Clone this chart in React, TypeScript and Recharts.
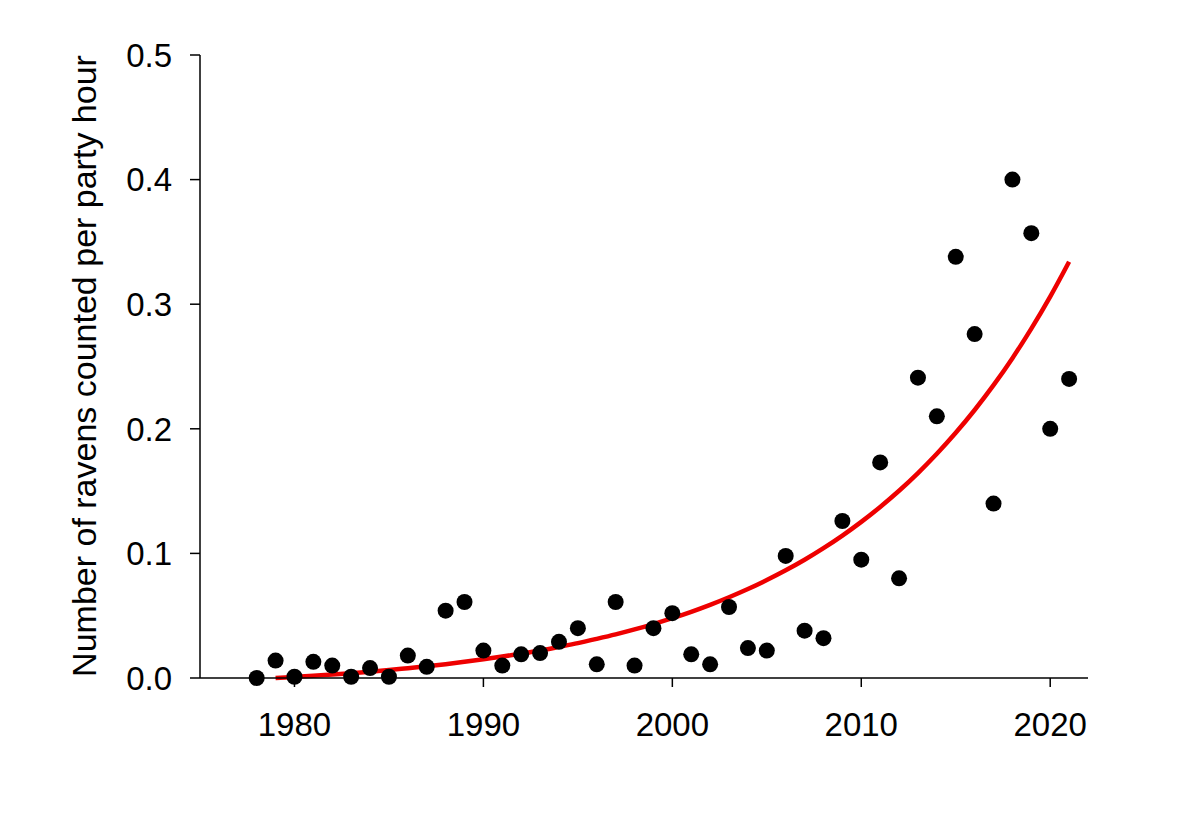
import React from 'react';
import { ComposedChart, XAxis, YAxis, Scatter, Line } from 'recharts';

const years = [1978,1979,1980,1981,1982,1983,1984,1985,1986,1987,1988,1989,1990,1991,1992,1993,1994,1995,1996,1997,1998,1999,2000,2001,2002,2003,2004,2005,2006,2007,2008,2009,2010,2011,2012,2013,2014,2015,2016,2017,2018,2019,2020,2021];
const ravensPerHour = [0.000,0.014,0.001,0.013,0.010,0.001,0.008,0.001,0.018,0.009,0.054,0.061,0.022,0.010,0.019,0.020,0.029,0.040,0.011,0.061,0.010,0.040,0.052,0.019,0.011,0.057,0.024,0.022,0.098,0.038,0.032,0.126,0.095,0.173,0.080,0.241,0.210,0.338,0.276,0.140,0.400,0.357,0.200,0.240];

const fitYears = [1979,1980,1981,1982,1983,1984,1985,1986,1987,1988,1989,1990,1991,1992,1993,1994,1995,1996,1997,1998,1999,2000,2001,2002,2003,2004,2005,2006,2007,2008,2009,2010,2011,2012,2013,2014,2015,2016,2017,2018,2019,2020,2021];
const fitValues = [0.0000,0.0009,0.0018,0.0028,0.0039,0.0051,0.0064,0.0079,0.0094,0.0111,0.0130,0.0150,0.0172,0.0196,0.0221,0.0250,0.0280,0.0314,0.0350,0.0390,0.0433,0.0480,0.0531,0.0587,0.0648,0.0714,0.0786,0.0864,0.0949,0.1042,0.1143,0.1253,0.1373,0.1503,0.1645,0.1800,0.1968,0.2151,0.2350,0.2567,0.2804,0.3061,0.3341];

const xTicks = [1980, 1990, 2000, 2010, 2020];
const yTicks = [0, 0.1, 0.2, 0.3, 0.4, 0.5];

const points = years.map((y, i) => ({ year: y, value: ravensPerHour[i] }));
const fit = fitYears.map((y, i) => ({ year: y, value: fitValues[i] }));

const FONT = '"Liberation Sans", Arial, sans-serif';

const Dot = (props: any) => {
  const { cx, cy } = props;
  if (cx == null || cy == null) return null;
  return <circle cx={cx} cy={cy} r={8} fill="#000" />;
};

const YLabel = () => (
  <text
    x={96}
    y={366}
    transform="rotate(-90 96 366)"
    textAnchor="middle"
    fontFamily={FONT}
    fontSize={34}
    fill="#000"
  >
    Number of ravens counted per party hour
  </text>
);

export default function App() {
  return (
    <div style={{ position: 'absolute', left: 0, top: 0, width: 1200, height: 824, background: '#fff' }}>
      <ComposedChart width={1200} height={824} margin={{ top: 55, right: 112, bottom: 0, left: 0 }}>
        <XAxis
          type="number"
          dataKey="year"
          domain={[1975, 2022]}
          ticks={xTicks}
          allowDataOverflow
          height={146}
          tickSize={9}
          tickMargin={26}
          axisLine={{ stroke: '#000', strokeWidth: 1.5 }}
          tickLine={{ stroke: '#000', strokeWidth: 1.5 }}
          tick={{ fill: '#000', fontSize: 33, fontFamily: FONT }}
        />
        <YAxis
          type="number"
          dataKey="value"
          domain={[0, 0.5]}
          ticks={yTicks}
          width={200}
          tickSize={10}
          tickMargin={18}
          tickFormatter={(v: number) => v.toFixed(1)}
          axisLine={{ stroke: '#000', strokeWidth: 1.5 }}
          tickLine={{ stroke: '#000', strokeWidth: 1.5 }}
          tick={{ fill: '#000', fontSize: 33, fontFamily: FONT }}
          label={<YLabel />}
        />
        <Scatter data={points} dataKey="value" shape={<Dot />} isAnimationActive={false} />
        <Line
          data={fit}
          dataKey="value"
          type="monotone"
          stroke="#ee0000"
          strokeWidth={4.5}
          dot={false}
          activeDot={false}
          isAnimationActive={false}
        />
      </ComposedChart>
    </div>
  );
}
